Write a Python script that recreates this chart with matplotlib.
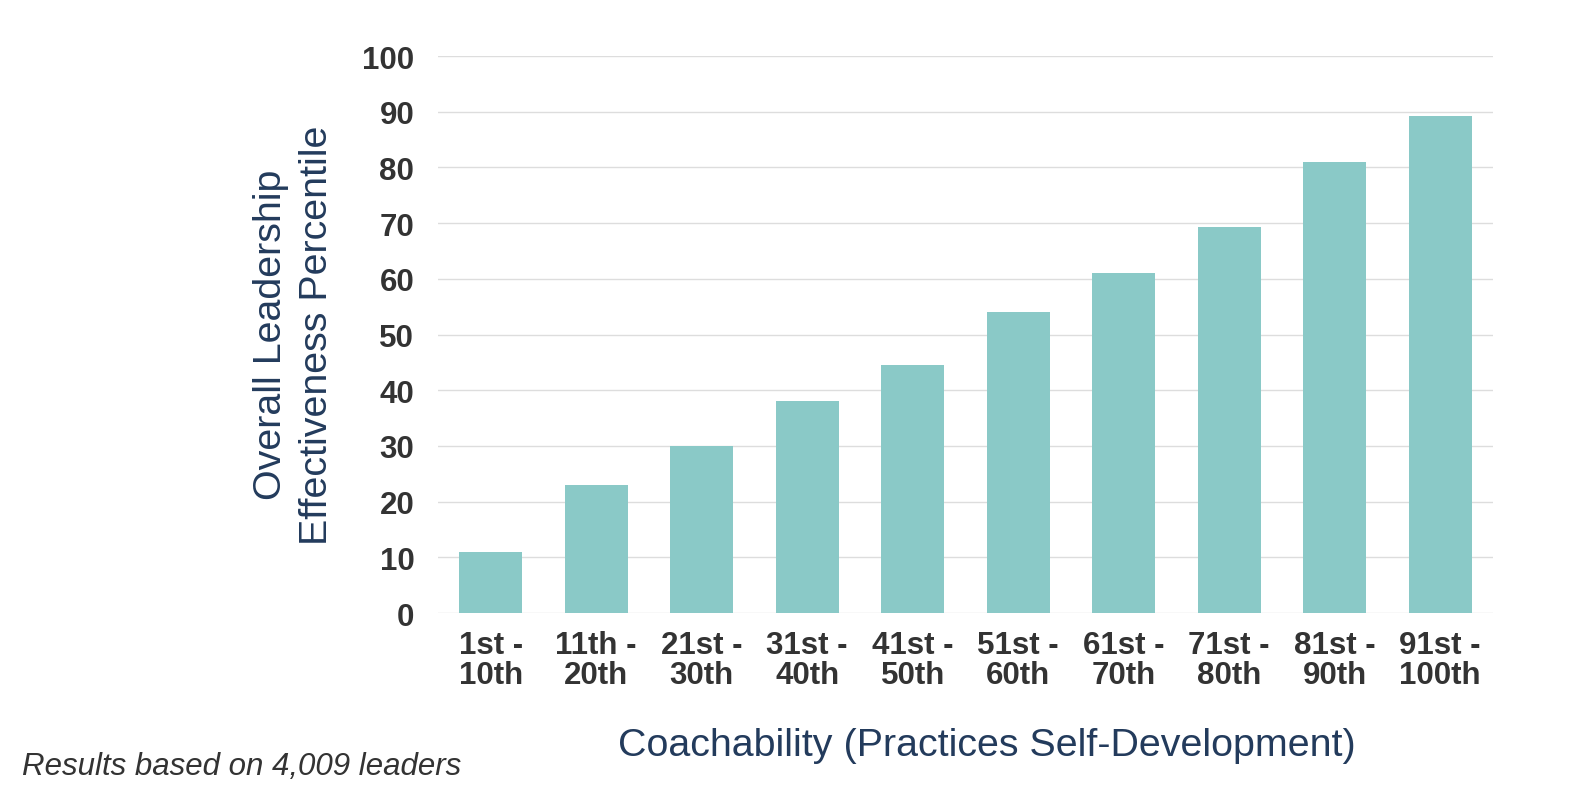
import matplotlib.pyplot as plt
import numpy as np

# Dados
categories = ['1st -\n10th', '11th -\n20th', '21st -\n30th', '31st -\n40th', '41st -\n50th',
              '51st -\n60th', '61st -\n70th', '71st -\n80th', '81st -\n90th', '91st -\n100th']
values = [11, 23, 30, 38, 44.5, 54, 61, 69.3, 81, 89.3]
y_ticks = [0, 10, 20, 30, 40, 50, 60, 70, 80, 90, 100]

plt.rcParams['font.family'] = ['Liberation Sans', 'DejaVu Sans']

navy = '#233B5C'
bar_color = '#8AC9C7'

fig = plt.figure(figsize=(15.72, 8.04), dpi=100)
ax = fig.add_axes([0.2786, 0.2363, 0.6711, 0.6927])

x = np.arange(len(categories))
ax.bar(x, values, width=0.6, color=bar_color, zorder=3)

ax.set_xlim(-0.5, len(categories) - 0.5)
ax.set_ylim(0, 100)
ax.set_yticks(y_ticks)
ax.set_xticks(x, labels=categories)
ax.tick_params(axis='both', length=0, labelsize=22.5, labelcolor='#333333')
ax.tick_params(axis='y', pad=17)
ax.tick_params(axis='x', pad=12)
for lbl in ax.get_xticklabels() + ax.get_yticklabels():
    lbl.set_fontweight('bold')
for lbl in ax.get_xticklabels():
    lbl.set_linespacing(1.0)

ax.grid(axis='y', color='#DDDDDD', linewidth=1, zorder=0)
for s in ax.spines.values():
    s.set_visible(False)

fig.text(0.187, 0.583, 'Overall Leadership\nEffectiveness Percentile', rotation=90,
         ha='center', va='center', fontsize=28.4, color=navy, linespacing=1.35)
fig.text(0.6275, 0.072, 'Coachability (Practices Self-Development)',
         ha='center', va='center', fontsize=28.4, color=navy)
fig.text(0.014, 0.046, 'Results based on 4,009 leaders', ha='left', va='center',
         fontsize=22.5, style='italic', color='#333333')

fig.savefig('out.png', dpi=100)
